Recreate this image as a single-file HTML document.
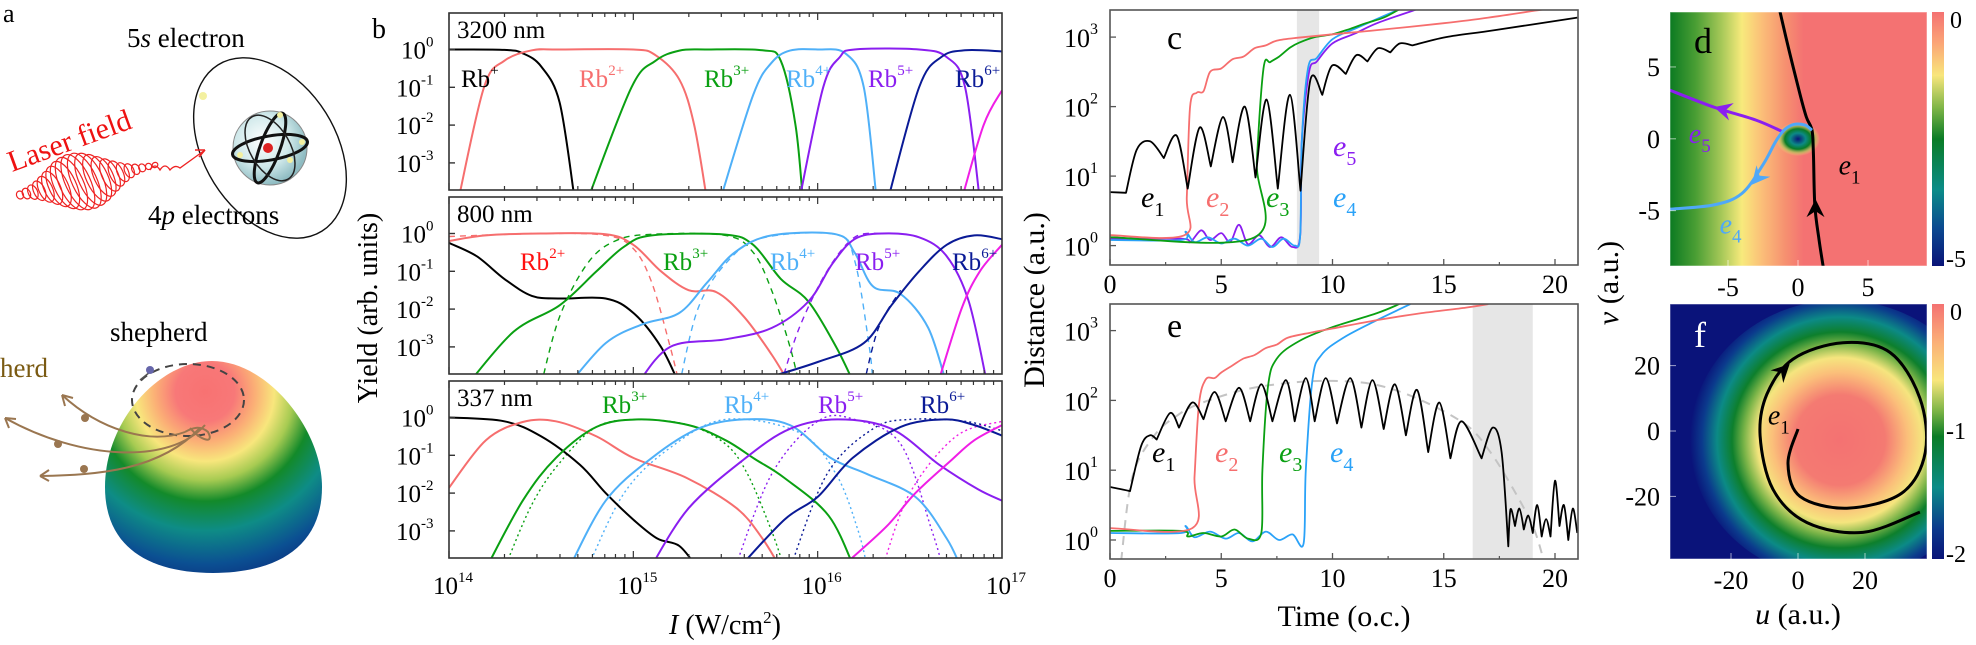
<!DOCTYPE html>
<html><head><meta charset="utf-8"><title>Rb multiple ionization figure</title>
<style>
html,body{margin:0;padding:0;background:#fff;}
svg{display:block;font-family:"Liberation Serif","DejaVu Serif",serif;}
svg text{font-family:"Liberation Serif","DejaVu Serif",serif;}
</style></head>
<body>
<svg id="fig" width="1976" height="645" viewBox="0 0 1976 645" xmlns="http://www.w3.org/2000/svg" font-family="Liberation Serif, DejaVu Serif, serif">
<defs>
<radialGradient id="coneGrad" cx="205" cy="392" r="210" gradientUnits="userSpaceOnUse">
<stop offset="0" stop-color="#f87272"/><stop offset="0.14" stop-color="#f87878"/><stop offset="0.24" stop-color="#fbb076"/>
<stop offset="0.33" stop-color="#f8e67c"/><stop offset="0.42" stop-color="#a7cb52"/><stop offset="0.52" stop-color="#138a2a"/>
<stop offset="0.66" stop-color="#0e8c86"/><stop offset="0.82" stop-color="#0b4f92"/><stop offset="1" stop-color="#0a1c72"/>
</radialGradient>
<radialGradient id="atomGrad" cx="0.4" cy="0.4" r="0.6">
<stop offset="0" stop-color="#ffffff"/><stop offset="0.6" stop-color="#cfe8ea"/><stop offset="1" stop-color="#8fbcc2"/>
</radialGradient>
<linearGradient id="dBg" x1="1670" y1="0" x2="1927" y2="0" gradientUnits="userSpaceOnUse">
<stop offset="0" stop-color="#0b7a22"/><stop offset="0.1" stop-color="#4a9e34"/><stop offset="0.2" stop-color="#a6c858"/>
<stop offset="0.28" stop-color="#f8ea7c"/><stop offset="0.36" stop-color="#fbbd78"/><stop offset="0.45" stop-color="#f69070"/>
<stop offset="0.52" stop-color="#f47272"/><stop offset="1" stop-color="#f47272"/>
</linearGradient>
<linearGradient id="cbD" x1="0" y1="0" x2="0" y2="1">
<stop offset="0" stop-color="#f47272"/><stop offset="0.12" stop-color="#fba476"/><stop offset="0.25" stop-color="#f8e67c"/>
<stop offset="0.38" stop-color="#7cb446"/><stop offset="0.5" stop-color="#0a7c26"/><stop offset="0.7" stop-color="#0b8c88"/>
<stop offset="0.85" stop-color="#0b4a90"/><stop offset="1" stop-color="#0a1478"/>
</linearGradient>
<linearGradient id="cbF" x1="0" y1="0" x2="0" y2="1">
<stop offset="0" stop-color="#f47272"/><stop offset="0.15" stop-color="#fbb078"/><stop offset="0.3" stop-color="#f8e67c"/>
<stop offset="0.42" stop-color="#7cb446"/><stop offset="0.52" stop-color="#0a7c26"/><stop offset="0.72" stop-color="#0b8c88"/>
<stop offset="0.88" stop-color="#0b3a8c"/><stop offset="1" stop-color="#0a1478"/>
</linearGradient>
<radialGradient id="fBg" cx="1840" cy="440" r="150" gradientUnits="userSpaceOnUse">
<stop offset="0" stop-color="#f47272"/><stop offset="0.3" stop-color="#f47a72"/><stop offset="0.45" stop-color="#fbbf7a"/>
<stop offset="0.55" stop-color="#f5e57e"/><stop offset="0.64" stop-color="#7ab448"/><stop offset="0.72" stop-color="#0d7f2c"/>
<stop offset="0.82" stop-color="#0c8a86"/><stop offset="0.92" stop-color="#0b3a8c"/><stop offset="1" stop-color="#0a137a"/>
</radialGradient>
<radialGradient id="dHole" cx="0.5" cy="0.5" r="0.5">
<stop offset="0" stop-color="#0a1478"/><stop offset="0.35" stop-color="#0c8a86"/><stop offset="0.6" stop-color="#0a7c26"/>
<stop offset="0.8" stop-color="#a6c858" stop-opacity="0.7"/><stop offset="1" stop-color="#f8ea7c" stop-opacity="0"/>
</radialGradient>
<clipPath id="clipB0"><rect x="449" y="13" width="553" height="177"/></clipPath>
<clipPath id="clipB1"><rect x="449" y="197" width="553" height="177"/></clipPath>
<clipPath id="clipB2"><rect x="449" y="381" width="553" height="177"/></clipPath>
<clipPath id="clipC"><rect x="1110" y="10" width="468" height="255"/></clipPath>
<clipPath id="clipE"><rect x="1110" y="304" width="468" height="255"/></clipPath>
<clipPath id="clipD"><rect x="1670" y="12" width="257" height="254"/></clipPath>
<clipPath id="clipF"><rect x="1670" y="304" width="257" height="255"/></clipPath>
</defs>

<!-- ===== Panel a (illustration) ===== -->
<g>
<text x="3" y="22" font-size="26">a</text>
<text x="127" y="47" font-size="27">5<tspan font-style="italic">s</tspan> electron</text>
<ellipse cx="270" cy="148" rx="66" ry="98" transform="rotate(-32 270 148)" fill="none" stroke="#111" stroke-width="1.4"/>
<circle cx="203" cy="96" r="4" fill="#f3f0a0"/>
<circle cx="270" cy="148" r="37" fill="url(#atomGrad)" stroke="#888" stroke-width="1"/>
<ellipse cx="270" cy="148" rx="38" ry="12" fill="none" stroke="#111" stroke-width="3" transform="rotate(-10 270 148)"/>
<ellipse cx="270" cy="148" rx="10" ry="37" fill="none" stroke="#111" stroke-width="3" transform="rotate(20 270 148)"/>
<ellipse cx="270" cy="148" rx="36" ry="20" fill="none" stroke="#222" stroke-width="1.5" transform="rotate(60 270 148)"/>
<circle cx="268" cy="148" r="5" fill="#d22"/>
<circle cx="280" cy="115" r="3" fill="#f3f0a0"/><circle cx="302" cy="142" r="3" fill="#f3f0a0"/><circle cx="240" cy="155" r="3" fill="#f3f0a0"/><circle cx="290" cy="160" r="3" fill="#f3f0a0"/>
<text x="0" y="0" font-size="30" fill="#ee1111" transform="translate(12 172) rotate(-20)">Laser field</text>
<g id="laserCoil" fill="none" stroke="#ee2222" stroke-width="1.2"></g>
<path d="M150,170 q5,-8 10,0 q5,-8 10,0 q5,-6 10,-2 L205,150" fill="none" stroke="#ee2222" stroke-width="1.3"/>
<path d="M205,150 l-10,0 m10,0 l-6,7" fill="none" stroke="#ee2222" stroke-width="1.5"/>
<text x="148" y="224" font-size="27">4<tspan font-style="italic">p</tspan> electrons</text>
<text x="110" y="341" font-size="27">shepherd</text>
<text x="0" y="377" font-size="27" fill="#7a5a12">herd</text>
<path d="M105,487 C105,420 160,361 212,361 C268,361 322,430 322,487 C322,548 275,573 213,573 C150,573 105,548 105,487 Z" fill="url(#coneGrad)"/>
<ellipse cx="188" cy="400" rx="56" ry="36" fill="none" stroke="#444" stroke-width="2" stroke-dasharray="8,6"/>
<path d="M150,372 l-10,8" stroke="#555" stroke-width="1.5"/>
<circle cx="150" cy="370" r="4" fill="#6666aa"/>
<g fill="none" stroke="#9a7650" stroke-width="2">
<path d="M185,432 C150,445 100,430 62,395"/><path d="M62,395 l3,11 m-3,-11 l11,3"/>
<path d="M205,425 C170,465 80,460 5,418"/><path d="M5,418 l4,10 m-4,-10 l11,1"/>
<path d="M200,428 C160,470 100,475 40,476"/><path d="M40,476 l9,-6 m-9,6 l9,5"/>
<path d="M190,428 C200,440 215,445 208,432 C200,425 192,428 185,432"/>
</g>
<circle cx="85" cy="418" r="4" fill="#9a7650"/><circle cx="58" cy="444" r="4" fill="#9a7650"/><circle cx="84" cy="469" r="4" fill="#9a7650"/>
</g>

<!-- ===== Panel b ===== -->
<g id="panelB">
<text x="372" y="38" font-size="28">b</text>
<text x="0" y="0" font-size="28" text-anchor="middle" transform="translate(377 308) rotate(-90)">Yield (arb. units)</text>
<text x="725" y="634" font-size="28" text-anchor="middle"><tspan font-style="italic">I</tspan> (W/cm<tspan font-size="17" dy="-11">2</tspan><tspan dy="11">)</tspan></text>
</g>

<!-- ===== Panels c, e ===== -->
<g id="panelCE">
<text x="0" y="0" font-size="30" text-anchor="middle" transform="translate(1044 300) rotate(-90)">Distance (a.u.)</text>
<text x="1344" y="626" font-size="30" text-anchor="middle">Time (o.c.)</text>
</g>

<!-- ===== Panels d, f ===== -->
<g id="panelDF">
<rect x="1670" y="12" width="257" height="254" fill="url(#dBg)"/>
<ellipse cx="1798" cy="139" rx="22" ry="17" fill="url(#dHole)"/>
<rect x="1670" y="304" width="257" height="255" fill="#0a137a"/>
<ellipse cx="1840" cy="440" rx="150" ry="140" fill="url(#fBg)" clip-path="url(#clipF)"/>
<rect x="1932" y="12" width="12" height="254" fill="url(#cbD)"/>
<rect x="1932" y="304" width="12" height="255" fill="url(#cbF)"/>
<text x="1950" y="28" font-size="24">0</text>
<text x="1946" y="267" font-size="24">-5</text>
<text x="1950" y="320" font-size="24">0</text>
<text x="1946" y="439" font-size="24">-1</text>
<text x="1946" y="562" font-size="24">-2</text>
<text x="0" y="0" font-size="30" text-anchor="middle" transform="translate(1618 283) rotate(-90)"><tspan font-style="italic">v</tspan> (a.u.)</text>
<text x="1798" y="624" font-size="30" text-anchor="middle"><tspan font-style="italic">u</tspan> (a.u.)</text>
</g>

<script>
// ---------------- Panel b data (log10 intensity, log10 yield) ----------------
const wavelengths = ["3200 nm", "800 nm", "337 nm"];
const ionLabels = ["Rb+", "Rb2+", "Rb3+", "Rb4+", "Rb5+", "Rb6+", "Rb7+"];
const b3200_rb1 = [[14,0],[14.3,-0.01],[14.4,-0.1],[14.5,-0.45],[14.6,-1.4],[14.68,-3.9]];
const b3200_rb2 = [[14.05,-4],[14.19,-1],[14.3,-0.3],[14.45,-0.02],[14.6,0],[15.0,0],[15.12,-0.15],[15.25,-0.8],[15.33,-2],[15.4,-4]];
const b3200_rb3 = [[14.75,-4],[14.99,-1],[15.12,-0.3],[15.25,-0.03],[15.4,0],[15.7,-0.02],[15.8,-0.3],[15.88,-2],[15.92,-4]];
const b3200_rb4 = [[15.47,-4],[15.65,-1.2],[15.75,-0.35],[15.85,-0.03],[16.0,0],[16.15,-0.1],[16.25,-1],[16.32,-4]];
const b3200_rb5 = [[15.9,-4],[16.03,-1],[16.12,-0.2],[16.2,0],[16.55,0],[16.7,-0.2],[16.8,-1],[16.88,-4]];
const b3200_rb6 = [[16.38,-4],[16.55,-1],[16.67,-0.2],[16.8,-0.02],[17,-0.05]];
const b3200_rb7 = [[16.78,-4],[16.9,-2],[17,-1.08]];

const b800_rb1 = [[14,-0.25],[14.15,-0.6],[14.3,-1.2],[14.45,-1.65],[14.6,-1.72],[14.85,-1.72],[15.0,-2.1],[15.15,-3.0],[15.25,-4]];
const b800_rb2 = [[14,-0.2],[14.2,-0.05],[14.5,0],[14.85,-0.02],[15.0,-0.3],[15.15,-1.0],[15.3,-1.5],[15.45,-1.55],[15.6,-2.2],[15.75,-3.2],[15.85,-4]];
const b800_rb2_dash = [[14,-0.08],[14.5,0],[14.85,-0.05],[15.0,-0.4],[15.1,-1.3],[15.2,-3],[15.25,-4]];
const b800_rb3 = [[14.1,-4],[14.35,-2.6],[14.6,-1.9],[14.8,-1.0],[14.95,-0.35],[15.1,-0.05],[15.5,-0.03],[15.65,-0.3],[15.8,-1.2],[15.95,-1.8],[16.1,-3],[16.2,-4]];
const b800_rb3_dash = [[14.5,-4],[14.6,-2.2],[14.75,-0.8],[14.9,-0.2],[15.1,-0.02],[15.5,-0.05],[15.65,-0.5],[15.75,-1.5],[15.85,-3],[15.9,-4]];
const b800_rb4 = [[14.65,-4],[14.85,-2.9],[15.05,-2.4],[15.25,-2.1],[15.4,-1.3],[15.55,-0.5],[15.75,-0.05],[16.1,-0.02],[16.2,-0.5],[16.3,-1.4],[16.45,-1.6],[16.6,-2.5],[16.7,-4]];
const b800_rb4_dash = [[15.25,-4],[15.35,-2],[15.5,-0.8],[15.7,-0.12],[16.1,-0.03],[16.2,-0.7],[16.28,-3],[16.3,-4]];
const b800_rb5 = [[15.02,-4],[15.2,-3.0],[15.5,-2.8],[15.75,-2.5],[15.95,-1.8],[16.08,-0.8],[16.2,-0.15],[16.35,0],[16.55,-0.1],[16.7,-0.6],[16.82,-1.8],[16.92,-4]];
const b800_rb5_dash = [[15.8,-4],[15.9,-2.5],[16.05,-1],[16.2,-0.1],[16.35,0]];
const b800_rb6 = [[15.74,-3.8],[16.0,-3.4],[16.25,-2.9],[16.4,-1.9],[16.55,-1.0],[16.7,-0.3],[16.85,-0.05],[17,-0.15]];
const b800_rb6_dash = [[16.25,-4],[16.33,-2.5],[16.45,-1.5]];
const b800_rb7 = [[16.65,-4],[16.78,-2],[16.88,-1.0],[17,-0.3]];

const b337_rb1 = [[14,0],[14.3,-0.1],[14.5,-0.5],[14.71,-1.25],[14.85,-2],[15.0,-2.7],[15.13,-3.2],[15.25,-3.4],[15.35,-4]];
const b337_rb2 = [[14,-1.86],[14.2,-0.6],[14.4,-0.12],[14.58,-0.1],[14.8,-0.5],[15.0,-1.07],[15.29,-1.6],[15.56,-2.4],[15.7,-3.2],[15.8,-4]];
const b337_rb3 = [[14.2,-4],[14.4,-2.2],[14.58,-1.07],[14.8,-0.25],[15.03,-0.05],[15.3,-0.2],[15.5,-0.6],[15.66,-1.1],[15.82,-1.6],[16.06,-2.6],[16.2,-4]];
const b337_rb3_dot = [[14.3,-4],[14.45,-2.3],[14.6,-1.2],[14.8,-0.25],[15.03,-0.05],[15.3,-0.2],[15.5,-0.7],[15.62,-1.5],[15.75,-3],[15.82,-4]];
const b337_rb4 = [[14.65,-4],[14.85,-2.2],[15.1,-1.07],[15.35,-0.3],[15.6,-0.05],[15.85,-0.2],[16.07,-1.07],[16.27,-1.5],[16.53,-2.1],[16.7,-3.2],[16.78,-4]];
const b337_rb4_dot = [[14.75,-4],[14.95,-2],[15.2,-0.8],[15.5,-0.05],[15.9,-0.4],[16.1,-1.5],[16.22,-3],[16.27,-4]];
const b337_rb5 = [[15.09,-4],[15.3,-2.4],[15.61,-1.07],[15.85,-0.3],[16.11,-0.05],[16.4,-0.3],[16.66,-1.25],[16.87,-1.9],[17,-2.2]];
const b337_rb5_dot = [[15.55,-4],[15.75,-1.5],[16.0,-0.1],[16.2,-0.05],[16.45,-0.7],[16.62,-3],[16.68,-4]];
const b337_rb6 = [[15.57,-4],[15.82,-2.7],[16.0,-2.1],[16.19,-1.07],[16.45,-0.25],[16.69,-0.05],[16.85,-0.2],[17,-0.48]];
const b337_rb6_dot = [[15.85,-4],[16.05,-1.5],[16.3,-0.3],[16.5,-0.05],[16.8,-0.1],[17,-0.35]];
const b337_rb7 = [[16.12,-4],[16.37,-2.9],[16.53,-2.0],[16.72,-1.15],[16.85,-0.6],[17,-0.2]];
const b337_rb7_dot = [[16.35,-4],[16.5,-2],[16.75,-0.5],[17,-0.1]];

// ---------------- Panel c / e data (time in o.c., log10 distance) ----------------
const c_e1 = [[0,0.77],[0.72,0.76],[1.2,1.38],[1.8,1.5],[2.42,1.26],[3.0,1.58],[3.49,0.82],[4.03,1.7],[4.53,1.14],[5.08,1.85],[5.51,1.2],[6.06,2.0],[6.54,0.98],[7.04,2.1],[7.54,0.82],[8.08,2.17],[8.56,0.79],[9.0,2.38],[9.54,2.17],[9.98,2.59],[10.6,2.47],[11.07,2.74],[11.57,2.65],[12.05,2.84],[12.6,2.78],[13.03,2.91],[13.6,2.88],[15.1,3.0],[17.3,3.1],[21,3.28]];
const c_e2 = [[0,0.15],[3.35,0.15],[3.45,0.7],[3.6,2.0],[3.9,2.2],[4.2,2.22],[4.5,2.5],[5.0,2.55],[5.5,2.68],[6.0,2.72],[6.5,2.84],[7.0,2.88],[7.5,2.95],[8.4,2.99],[10,3.04],[12,3.1],[15,3.2],[17,3.28],[19.5,3.4]];
const c_e3 = [[0,0.12],[6.5,0.12],[6.6,1.2],[6.9,2.55],[7.2,2.64],[7.6,2.72],[8.1,2.85],[8.5,2.92],[9.2,3.0],[10,3.04],[10.8,3.12],[11.5,3.2],[12.3,3.28],[13,3.4]];
const c_e4 = [[0,0.08],[3.2,0.08],[3.4,0.2],[3.8,0.05],[4.4,0.12],[5.0,0.03],[5.6,0.1],[6.2,0.0],[6.8,0.1],[7.3,-0.02],[7.8,0.1],[8.3,0.0],[8.55,0.15],[8.62,1.5],[8.9,2.55],[9.3,2.7],[10,2.97],[11,3.12],[12,3.26],[13,3.4]];
const c_e5 = [[0,0.1],[3.2,0.1],[3.6,0.05],[4.1,0.22],[4.5,0.08],[5.0,0.18],[5.4,0.05],[5.8,0.3],[6.2,0.02],[6.7,0.15],[7.2,-0.02],[7.7,0.12],[8.2,-0.02],[8.55,0.15],[8.62,1.5],[8.95,2.5],[9.3,2.65],[10,2.91],[11,3.05],[12,3.2],[13.8,3.4]];
const e_e1 = [[0,0.76],[0.9,0.7],[1.4,1.35],[1.8,1.5],[2.1,1.44],[2.7,1.82],[3.1,1.61],[3.7,1.97],[4.2,1.73],[4.7,2.12],[5.2,1.7],[5.8,2.18],[6.3,1.7],[6.8,2.23],[7.3,1.7],[7.9,2.29],[8.3,1.7],[8.8,2.32],[9.2,1.7],[9.7,2.32],[10.2,1.67],[10.8,2.32],[11.3,1.61],[11.8,2.29],[12.3,1.59],[12.8,2.23],[13.3,1.5],[13.8,2.15],[14.3,1.26],[14.8,1.97],[15.3,1.17],[15.8,1.7],[16.7,1.17],[17.2,1.61],[17.6,1.26],[17.9,-0.09],[18.0,0.44],[18.2,0.2],[18.4,0.45],[18.6,0.15],[18.8,0.35],[19.0,0.1],[19.2,0.5],[19.4,0.05],[19.6,0.3],[19.8,0.05],[20.0,0.85],[20.2,0.2],[20.4,0.5],[20.6,0.0],[20.8,0.45],[21,0.1]];
const e_env = [[0.5,-0.3],[1,0.9],[2,1.5],[3,1.78],[4,1.95],[6,2.15],[8,2.25],[10,2.28],[12,2.22],[14,2.0],[16,1.65],[17,1.3],[18,0.8],[19,0.2],[19.5,-0.3]];
const e_e2 = [[0,0.17],[3.7,0.17],[3.8,0.9],[4.0,1.95],[4.3,2.3],[4.7,2.32],[5,2.4],[5.5,2.5],[6,2.6],[6.5,2.65],[7,2.75],[7.5,2.8],[8,2.9],[9,2.97],[10,3.03],[12,3.15],[14,3.25],[16,3.33],[17,3.38]];
const e_e3 = [[0,0.13],[3.2,0.13],[3.5,0.05],[4.2,0.1],[5,0.05],[5.6,0.15],[6.2,0.02],[6.8,0.1],[6.85,1.0],[7.1,2.2],[7.5,2.6],[8.5,2.85],[10,3.05],[12,3.25],[13,3.38]];
const e_e4 = [[0,0.1],[3.2,0.1],[3.4,0.2],[3.8,0.04],[4.5,0.12],[5.2,0.02],[5.8,0.1],[6.4,-0.02],[7.0,0.12],[7.6,0.0],[8.2,0.08],[8.7,-0.05],[8.8,1.0],[9.1,2.3],[9.5,2.65],[10.5,2.9],[12,3.15],[13.5,3.38]];

// ---------------- Panel d / f trajectories (u, v in a.u.) ----------------
const d_e1 = [[-1.3,8.9],[-0.6,6],[0.14,3.1],[0.6,1.5],[1.0,0.6],[1.1,-1],[1.2,-4.6],[1.5,-7],[1.8,-8.9]];
const d_e5 = [[-1.0,0.45],[-3,1.3],[-6,2.2],[-9.2,3.4]];
const d_e4 = [[1.0,0.6],[0.5,0.95],[-0.3,1.0],[-1.0,0.6],[-1.6,-0.2],[-2.5,-1.8],[-4,-3.8],[-6,-4.6],[-9.2,-4.9]];
const f_e1 = [[0,0.6],[-3,-10],[0.6,-20],[14.6,-23.6],[31,-19],[38,-6.5],[36.4,10],[27.5,24],[13.4,27],[-1.5,22],[-9.3,11.2],[-11.3,-1.5],[-7.5,-17.8],[2.7,-28],[19.4,-31],[36.4,-24.8]];

const SVGNS = "http://www.w3.org/2000/svg";
const svg = document.getElementById("fig");
function el(tag, attrs, parent) {
  const e = document.createElementNS(SVGNS, tag);
  for (const k in attrs) e.setAttribute(k, attrs[k]);
  (parent || svg).appendChild(e);
  return e;
}
function richText(t, base, extra, size, dy, italicBase) {
  const a = document.createElementNS(SVGNS, "tspan");
  if (italicBase) a.setAttribute("font-style", "italic");
  a.textContent = base;
  t.appendChild(a);
  const b = document.createElementNS(SVGNS, "tspan");
  b.setAttribute("font-size", size);
  b.setAttribute("dy", dy);
  b.setAttribute("font-style", "normal");
  b.textContent = extra;
  t.appendChild(b);
}
function smoothSeg(pts, move) {
  if (pts.length < 2) return "";
  let d = (move ? "M" + pts[0][0].toFixed(1) + "," + pts[0][1].toFixed(1) : "");
  for (let i = 0; i < pts.length - 1; i++) {
    const p0 = pts[i - 1] || pts[i], p1 = pts[i], p2 = pts[i + 1], p3 = pts[i + 2] || p2;
    const c1x = p1[0] + (p2[0] - p0[0]) / 6, c1y = p1[1] + (p2[1] - p0[1]) / 6;
    const c2x = p2[0] - (p3[0] - p1[0]) / 6, c2y = p2[1] - (p3[1] - p1[1]) / 6;
    d += " C" + c1x.toFixed(1) + "," + c1y.toFixed(1) + " " + c2x.toFixed(1) + "," + c2y.toFixed(1) + " " + p2[0].toFixed(1) + "," + p2[1].toFixed(1);
  }
  return d;
}
function smoothPath(pts) { return smoothSeg(pts, true); }
// smooth between local minima of the value (screen-y maxima) so troughs stay cusped
function cuspPath(pts) {
  let d = "M" + pts[0][0].toFixed(1) + "," + pts[0][1].toFixed(1);
  let start = 0;
  for (let i = 1; i < pts.length; i++) {
    const isCusp = i === pts.length - 1 || (pts[i][1] > pts[i - 1][1] && pts[i][1] > pts[i + 1][1]);
    if (isCusp) {
      d += smoothSeg(pts.slice(start, i + 1), false);
      start = i;
    }
  }
  return d;
}

// laser coil in panel a
const coil = document.getElementById("laserCoil");
for (let i = 0; i < 22; i++) {
  const t = i / 21;
  const cx = 20 + t * 135, amp = 28 * Math.exp(-Math.pow((t - 0.45) / 0.28, 2)) + 2;
  const ce = el("ellipse", {cx: cx, cy: 195 - t * 30, rx: amp * 0.35 + 2, ry: amp, transform: "rotate(-25 " + cx + " " + (195 - t * 30) + ")"}, coil);
  
  
}

// ---------------- Panel b ----------------
const panelB = document.getElementById("panelB");
const B_X0 = 449, B_X1 = 1002, B_H = 177;
const bTops = [13, 197, 381];
const bx = lx => B_X0 + (lx - 14) * (B_X1 - B_X0) / 3;
const byFor = top => ly => top + 36.5 - 37.8 * ly;
const COL = {rb1: "#000000", rb2: "#f66e6e", rb3: "#0aa012", rb4: "#4fb0f8", rb5: "#8a1ef0", rb6: "#0a1a96", rb7: "#f01ee6"};
const bSeries = [
  [["rb1", b3200_rb1, ""], ["rb2", b3200_rb2, ""], ["rb3", b3200_rb3, ""], ["rb4", b3200_rb4, ""], ["rb5", b3200_rb5, ""], ["rb6", b3200_rb6, ""], ["rb7", b3200_rb7, ""]],
  [["rb2", b800_rb2_dash, "6,5"], ["rb3", b800_rb3_dash, "6,5"], ["rb4", b800_rb4_dash, "6,5"], ["rb5", b800_rb5_dash, "6,5"], ["rb6", b800_rb6_dash, "6,5"],
   ["rb1", b800_rb1, ""], ["rb2", b800_rb2, ""], ["rb3", b800_rb3, ""], ["rb4", b800_rb4, ""], ["rb5", b800_rb5, ""], ["rb6", b800_rb6, ""], ["rb7", b800_rb7, ""]],
  [["rb3", b337_rb3_dot, "2,3"], ["rb4", b337_rb4_dot, "2,3"], ["rb5", b337_rb5_dot, "2,3"], ["rb6", b337_rb6_dot, "2,3"], ["rb7", b337_rb7_dot, "2,3"],
   ["rb1", b337_rb1, ""], ["rb2", b337_rb2, ""], ["rb3", b337_rb3, ""], ["rb4", b337_rb4, ""], ["rb5", b337_rb5, ""], ["rb6", b337_rb6, ""], ["rb7", b337_rb7, ""]]
];
const bLabels = [
  [["Rb", "+", 461, "rb1"], ["Rb", "2+", 579, "rb2"], ["Rb", "3+", 704, "rb3"], ["Rb", "4+", 786, "rb4"], ["Rb", "5+", 868, "rb5"], ["Rb", "6+", 955, "rb6"]],
  [["Rb", "2+", 520, "red"], ["Rb", "3+", 663, "rb3"], ["Rb", "4+", 770, "rb4"], ["Rb", "5+", 855, "rb5"], ["Rb", "6+", 952, "rb6"]],
  [["Rb", "3+", 602, "rb3"], ["Rb", "4+", 724, "rb4"], ["Rb", "5+", 818, "rb5"], ["Rb", "6+", 920, "rb6"]]
];
const bLabelBase = [87, 270, 413];
const yTickExps = [0, -1, -2, -3];
const xTickExps = [14, 15, 16, 17];

bTops.forEach((top, pi) => {
  const by = byFor(top);
  const g = el("g", {"clip-path": "url(#clipB" + pi + ")"}, panelB);
  
  
  bSeries[pi].forEach(s => {
    const pts = s[1].map(p => [bx(p[0]), by(p[1])]);
    const p = el("path", {d: smoothPath(pts), fill: "none", stroke: COL[s[0]], "stroke-width": s[2] ? 1.4 : 2, "stroke-dasharray": s[2] || "none"}, g);
    
    
  });
  const frame = el("rect", {x: B_X0, y: top, width: B_X1 - B_X0, height: B_H, fill: "none", stroke: "#333", "stroke-width": 1.6}, panelB);
  
  
  yTickExps.forEach(ex => {
    const y = by(ex);
    const t = el("line", {x1: B_X0, x2: B_X0 + 6, y1: y, y2: y, stroke: "#333", "stroke-width": 1.4}, panelB);
    
    
    const tx = el("text", {x: B_X0 - 48 - (ex < 0 ? 5 : 0), y: y + 9, "font-size": 25}, panelB);
    
    
    richText(tx, "10", String(ex), 15, -12, false);
  });
  for (let d = 14; d < 17; d++) {
    for (let m = 1; m < 10; m++) {
      const x = bx(d + Math.log10(m));
      const len = m === 1 ? 7 : 4;
      const t1 = el("line", {x1: x, x2: x, y1: top + B_H, y2: top + B_H - len, stroke: "#333", "stroke-width": 1.2}, panelB);
      
      
      const t2 = el("line", {x1: x, x2: x, y1: top, y2: top + len, stroke: "#333", "stroke-width": 1.2}, panelB);
      
      
    }
  }
  const wl = el("text", {x: 457, y: top + 25, "font-size": 25}, panelB);
  
  
  wl.textContent = wavelengths[pi];
  bLabels[pi].forEach(L => {
    const t = el("text", {x: L[2], y: bLabelBase[pi], "font-size": 25, fill: L[3] === "red" ? "#ff1010" : COL[L[3]]}, panelB);
    
    
    richText(t, L[0], L[1], 15, -12, false);
  });
});
xTickExps.forEach(ex => {
  const t = el("text", {x: bx(ex) - 16, y: 594, "font-size": 25}, panelB);
  
  
  richText(t, "10", String(ex), 15, -12, false);
});

// ---------------- Panels c / e ----------------
const panelCE = document.getElementById("panelCE");
const C_X0 = 1110, C_X1 = 1578, T_PX = 22.25;
const tx = t => C_X0 + t * T_PX;
const cy = ld => 245.6 - 69.5 * ld;
const ey = ld => 540 - 69.8 * ld;
const timeTicks = [0, 5, 10, 15, 20];
const distTicks = [0, 1, 2, 3];
const ECOL = {e1: "#000000", e2: "#f66e6e", e3: "#0aa012", e4: "#2aa2f8", e5: "#8a1ef0"};
function drawDistPanel(top, bottom, yf, shade, series, clipId, tag, letterY, labels, env) {
  const sh = el("rect", {x: tx(shade[0]), y: top, width: tx(shade[1]) - tx(shade[0]), height: bottom - top, fill: "#e6e6e6"}, panelCE);
  
  
  const g = el("g", {"clip-path": "url(#" + clipId + ")"}, panelCE);
  
  
  if (env) {
    const pe = el("path", {d: smoothPath(env.map(p => [tx(p[0]), yf(p[1])])), fill: "none", stroke: "#c4c4c4", "stroke-width": 2, "stroke-dasharray": "9,7"}, g);
    
    
  }
  series.forEach(s => {
    const pts = s[1].map(q => [tx(q[0]), yf(q[1])]);
    const p = el("path", {d: s[0] === "e1" ? cuspPath(pts) : smoothPath(pts), fill: "none", stroke: ECOL[s[0]], "stroke-width": 1.8, "stroke-linejoin": "round"}, g);
    
    
  });
  const fr = el("rect", {x: C_X0, y: top, width: C_X1 - C_X0, height: bottom - top, fill: "none", stroke: "#555", "stroke-width": 1.6}, panelCE);
  
  
  timeTicks.forEach(t => {
    const l = el("line", {x1: tx(t), x2: tx(t), y1: bottom, y2: bottom - 6, stroke: "#555", "stroke-width": 1.3}, panelCE);
    
    
    const lb = el("text", {x: tx(t), y: bottom + 28, "font-size": 26, "text-anchor": "middle"}, panelCE);
    
    
    lb.textContent = t;
  });
  for (let t = 2.5; t < 21; t += 5) {
    const l = el("line", {x1: tx(t), x2: tx(t), y1: bottom, y2: bottom - 3, stroke: "#555", "stroke-width": 1.2}, panelCE);
    
    
  }
  distTicks.forEach(d => {
    const y = yf(d);
    const l = el("line", {x1: C_X0, x2: C_X0 + 6, y1: y, y2: y, stroke: "#555", "stroke-width": 1.3}, panelCE);
    
    
    const lb = el("text", {x: C_X0 - 46, y: y + 10, "font-size": 26}, panelCE);
    
    
    richText(lb, "10", String(d), 16, -13, false);
  });
  const letter = el("text", {x: 1167, y: letterY, "font-size": 34}, panelCE);
  
  
  letter.textContent = tag;
  labels.forEach(L => {
    const t = el("text", {x: L[1], y: L[2], "font-size": 30, fill: ECOL[L[0]]}, panelCE);
    
    
    richText(t, "e", L[0].slice(1), 20, 9, true);
  });
}
drawDistPanel(10, 265, cy, [8.4, 9.4], [["e5", c_e5], ["e4", c_e4], ["e3", c_e3], ["e2", c_e2], ["e1", c_e1]], "clipC", "c", 49,
  [["e1", 1141, 207], ["e2", 1206, 207], ["e3", 1266, 207], ["e4", 1333, 207], ["e5", 1333, 156]]);
drawDistPanel(304, 559, ey, [16.3, 19.0], [["e4", e_e4], ["e3", e_e3], ["e2", e_e2], ["e1", e_e1]], "clipE", "e", 337,
  [["e1", 1152, 462], ["e2", 1215, 462], ["e3", 1279, 462], ["e4", 1330, 462]], e_env);

// ---------------- Panels d / f ----------------
const panelDF = document.getElementById("panelDF");
const dx = u => 1798 + 14 * u;
const dy = v => 138.8 - 14.37 * v;
const fx = u => 1798 + 3.35 * u;
const fy = v => 431 - 3.27 * v;
const dTicks = [-5, 0, 5];
const fTicks = [-20, 0, 20];
function drawTraj(pts, X, Y, color, clip, name) {
  const p = el("path", {d: smoothPath(pts.map(q => [X(q[0]), Y(q[1])])), fill: "none", stroke: color, "stroke-width": 3, "clip-path": "url(#" + clip + ")"}, panelDF);
  
  
}
drawTraj(d_e1, dx, dy, "#000", "clipD", "trajectory-d-e1");
drawTraj(d_e5, dx, dy, "#8a1ef0", "clipD", "trajectory-d-e5");
drawTraj(d_e4, dx, dy, "#4fa8f8", "clipD", "trajectory-d-e4");
drawTraj(f_e1, fx, fy, "#000", "clipF", "trajectory-f-e1");
function arrowHead(x, y, ang, color, name) {
  const a = el("path", {d: "M0,0 L-18,-9 L-12,0 L-18,9 Z", fill: color, transform: "translate(" + x + " " + y + ") rotate(" + ang + ")"}, panelDF);
  
  
}
arrowHead(dx(1.25), dy(-4.2), -90, "#000", "arrow-d-e1");
arrowHead(dx(-6), dy(2.2), 195, "#8a1ef0", "arrow-d-e5");
arrowHead(dx(-3.3), dy(-3.2), 130, "#4fa8f8", "arrow-d-e4");
arrowHead(fx(-2.5), fy(20.5), -45, "#000", "arrow-f-e1");
const eLabD = [["e5", dx(-7.8), dy(-0.3), "#8a1ef0"], ["e4", dx(-5.6), dy(-6.6), "#4fa8f8"], ["e1", dx(2.9), dy(-2.5), "#000"]];
eLabD.forEach(L => {
  const t = el("text", {x: L[1], y: L[2], "font-size": 28, fill: L[3]}, panelDF);
  
  
  richText(t, "e", L[0].slice(1), 19, 9, true);
});
const fl = el("text", {x: fx(-9), y: fy(2), "font-size": 28, fill: "#000"}, panelDF);


richText(fl, "e", "1", 19, 9, true);
[["d", 53, "#000"], ["f", 347, "#fff"]].forEach(L => {
  const t = el("text", {x: 1694, y: L[1], "font-size": 36, fill: L[2]}, panelDF);
  
  
  t.textContent = L[0];
});
function mapAxes(top, bottom, X, Y, ticks) {
  const fr = el("rect", {x: 1670, y: top, width: 257, height: bottom - top, fill: "none", stroke: "#fff", "stroke-opacity": 0.5, "stroke-width": 1}, panelDF);
  
  
  ticks.forEach(v => {
    const lx = el("text", {x: X(v), y: bottom + 30, "font-size": 26, "text-anchor": "middle"}, panelDF);
    
    
    lx.textContent = v;
    const ly = el("text", {x: 1660, y: Y(v) + 9, "font-size": 26, "text-anchor": "end"}, panelDF);
    
    
    ly.textContent = v;
    const t1 = el("line", {x1: X(v), x2: X(v), y1: bottom, y2: bottom - 6, stroke: "#fff", "stroke-opacity": 0.6}, panelDF);
    
    
    const t2 = el("line", {x1: 1670, x2: 1676, y1: Y(v), y2: Y(v), stroke: "#fff", "stroke-opacity": 0.6}, panelDF);
    
    
  });
}
mapAxes(12, 266, dx, dy, dTicks);
mapAxes(304, 559, fx, fy, fTicks);
</script>
</svg>
</body></html>
